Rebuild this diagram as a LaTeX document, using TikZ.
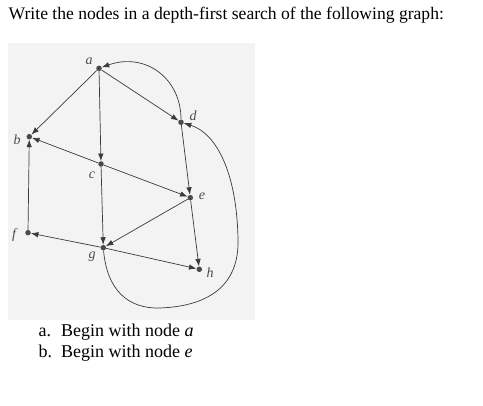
\documentclass[tikz,border=0pt]{standalone}
\usepackage{fontspec}
\setmainfont{Liberation Serif}
\usetikzlibrary{arrows.meta}
\definecolor{ink}{HTML}{3A3A3A}
\definecolor{dotc}{HTML}{4A4A4A}
\definecolor{scan}{HTML}{F3F3F3}
\begin{document}
\begin{tikzpicture}[x=1pt,y=-1pt,
  vert/.style={circle,fill=dotc,inner sep=0pt,minimum size=5.5pt},
  lab/.style={font=\fontsize{14}{14}\selectfont\itshape,text=dotc,inner sep=0pt},
  edge/.style={draw=ink,line width=0.7pt,-{Latex[length=7.5pt,width=5.5pt]}},
  txt/.style={font=\fontsize{18}{21}\selectfont,anchor=base west,inner sep=0pt}]
\useasboundingbox (0,0) rectangle (483,406);
\fill[scan] (8,43) rectangle (255,320);
\node[txt,font=\fontsize{17.6}{21}\selectfont] (title) at (8.5,20) {Write the nodes in a depth-first search of the following graph:};
\node[txt] (la) at (38.5,336.7) {a.};
\node[txt] (ta) at (61,336.7) {Begin with node \textit{a}};
\node[txt] (lb) at (38.5,357.5) {b.};
\node[txt] (tb) at (61,357.5) {Begin with node \textit{e}};
% vertices
\node[vert] (a) at (99,68.3) {};
\node[vert] (d) at (181,122.3) {};
\node[vert] (b) at (29.3,136.7) {};
\node[vert] (c) at (101,164) {};
\node[vert] (e) at (190.3,197.7) {};
\node[vert] (f) at (28,232.7) {};
\node[vert] (g) at (103.3,247.7) {};
\node[vert] (h) at (199.3,269.3) {};
% labels
\node[lab] (la2) at (89,61) {a};
\node[lab] (ld) at (193,116) {d};
\node[lab] (lb2) at (17,140) {b};
\node[lab] (lc) at (92,175) {c};
\node[lab] (le) at (202,196) {e};
\node[lab] (lf) at (14,235) {f};
\node[lab] (lg) at (92,257) {g};
\node[lab] (lh) at (210,273) {h};
% edges
\draw[edge] (a) -- (b);
\draw[edge] (a) -- (c);
\draw[edge] (a) -- (d);
\draw[edge] (d) -- (e);
\draw[edge] (c) -- (b);
\draw[edge] (c) -- (e);
\draw[edge] (c) -- (g);
\draw[edge] (e) -- (g);
\draw[edge] (e) -- (h);
\draw[edge] (g) -- (f);
\draw[edge] (g) -- (h);
\draw[edge] (f) -- (b);
\draw[edge] (d) .. controls (181,78) and (145,52) .. (a);
\draw[edge] (g) .. controls (107,290) and (128,309) .. (160,308)
  .. controls (213,306) and (239,282) .. (238,240)
  .. controls (237,172) and (216,133) .. (d);
\end{tikzpicture}
\end{document}
